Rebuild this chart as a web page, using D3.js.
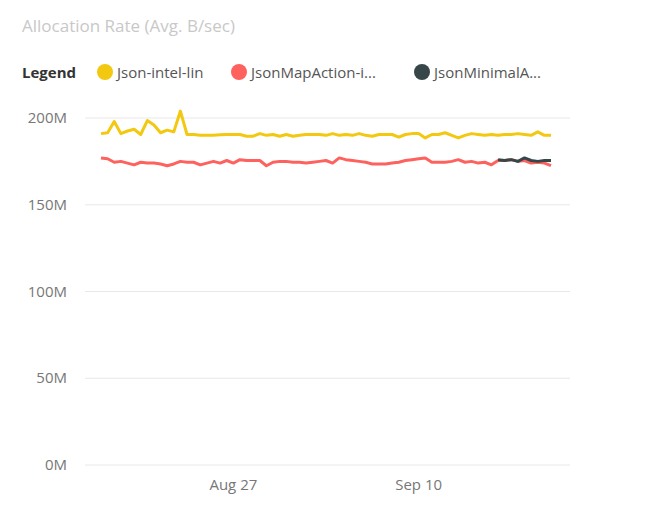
<!DOCTYPE html>
<html><head><meta charset="utf-8">
<script src="https://cdn.jsdelivr.net/npm/d3@7"></script>
<style>body{margin:0;background:#fff;font-family:"Segoe UI","Open Sans",sans-serif}</style>
</head><body><svg id="c" width="656" height="518"></svg>
<script>
var startDate = new Date(2018, 7, 17);
var yellowVals = [191,191.5,198,191,192.5,193.5,190.5,198.5,196,191.5,193,192,204,190.5,190.5,190,190,190,190.3,190.5,190.5,190.5,189.5,189.5,191,190,190.5,189.5,190.5,189.5,190,190.5,190.5,190.5,190,191,190,190.5,190,191,190,189.5,190.5,190.5,190.5,189,190.5,191,191,188.5,190.5,190.5,191.5,190,188.5,190,191,190.5,190,190.5,190,190.5,190.5,191,190.5,190,192,190,190];
var redVals = [177,176.5,174.5,175,174,173,174.5,174,174,173.5,172.5,173.5,175,174.5,174.5,173,174,175,174,175.5,174,176,175.5,175.5,175.5,172.5,174.5,175,175,174.5,174.5,174,174.5,175,175.5,174,177,176,175.5,175,174.5,173.5,173.5,173.5,174,174.5,175.5,176,176.5,177,174.5,174.5,174.5,175,176,174.5,175,174,174.5,173,175.5,175.5,176,175,175.5,174,174.5,174,172.5];
var darkVals = [176,175.5,176,175,177,175.5,175,175.5,175.5];
var darkStart = 60;
var seriesNames = ['Json-intel-lin', 'JsonMapAction-i...', 'JsonMinimalA...'];
var seriesColors = ['#F2C811', '#FD625E', '#374649'];
var yTicks = [0, 50, 100, 150, 200];
var xTickDates = [new Date(2018, 7, 27), new Date(2018, 8, 10)];

var svg = d3.select('#c');
var toDate = function (i) { return new Date(+startDate + i * 12 * 3600 * 1000); };

var x = d3.scaleTime().domain([toDate(0), toDate(68)]).range([101, 551]);
var y = d3.scaleLinear().domain([0, 200]).range([465, 118]);

svg.append('text').attr('x', 22).attr('y', 32).attr('fill', '#c8c8c8')
  .style('font-size', '17px').text('Allocation Rate (Avg. B/sec)');

// legend
var lg = svg.append('g');
lg.append('text').attr('x', 22).attr('y', 78).attr('fill', '#333').style('font-weight', 'bold')
  .style('font-size', '15px').text('Legend');
var lx = [105, 239, 422];
seriesNames.forEach(function (n, i) {
  lg.append('circle').attr('cx', lx[i]).attr('cy', 72).attr('r', 8).attr('fill', seriesColors[i]);
  lg.append('text').attr('x', lx[i] + 12).attr('y', 78).attr('fill', '#555')
    .style('font-size', '15px').text(n);
});

// grid + y axis
yTicks.forEach(function (t) {
  svg.append('line').attr('x1', 85).attr('x2', 570).attr('y1', y(t)).attr('y2', y(t))
    .attr('stroke', '#e8e8e8').attr('stroke-width', 1);
  svg.append('text').attr('x', 67).attr('y', y(t) + 5).attr('text-anchor', 'end')
    .attr('fill', '#777').style('font-size', '15px').text(t + 'M');
});
xTickDates.forEach(function (d) {
  svg.append('text').attr('x', x(d)).attr('y', 490).attr('text-anchor', 'middle')
    .attr('fill', '#777').style('font-size', '15px').text(d3.timeFormat('%b %-d')(d));
});

var line = d3.line().x(function (d) { return x(d.date); }).y(function (d) { return y(d.v); });
var mk = function (vals, off) {
  return vals.map(function (v, i) { return {date: toDate(i + off), v: v}; });
};
[[yellowVals, 0], [redVals, 0], [darkVals, darkStart]].forEach(function (s, i) {
  svg.append('path').datum(mk(s[0], s[1])).attr('d', line).attr('fill', 'none')
    .attr('stroke', seriesColors[i]).attr('stroke-width', 3).attr('stroke-linejoin', 'round');
});
</script></body></html>
